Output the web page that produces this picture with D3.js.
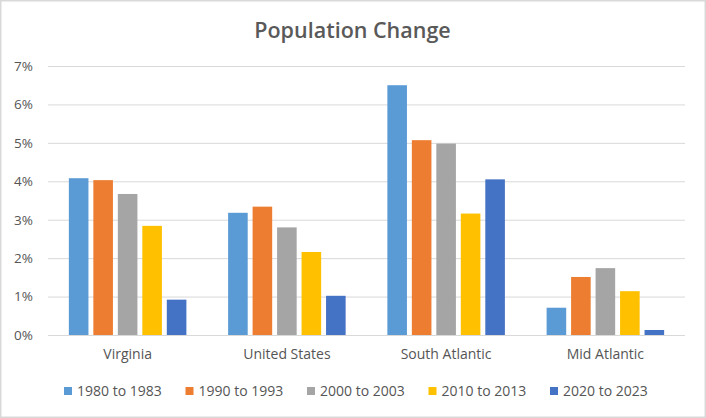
<!DOCTYPE html>
<html>
<head>
<meta charset="utf-8">
<script src="https://cdn.jsdelivr.net/npm/d3@7"></script>
<style>
  html, body { margin: 0; padding: 0; background: #fff; }
  svg { display: block; font-family: "Open Sans", "Liberation Sans", sans-serif; }
</style>
</head>
<body>
<svg id="chart" width="706" height="418"></svg>
<script>
const title = "Population Change";
const categories = ["Virginia", "United States", "South Atlantic", "Mid Atlantic"];
const seriesNames = ["1980 to 1983", "1990 to 1993", "2000 to 2003", "2010 to 2013", "2020 to 2023"];
const seriesColors = ["#5B9BD5", "#ED7D31", "#A5A5A5", "#FFC000", "#4472C4"];
const s1980 = [0.0408, 0.0318, 0.0650, 0.0071];
const s1990 = [0.0403, 0.0334, 0.0507, 0.0151];
const s2000 = [0.0367, 0.0280, 0.0498, 0.0174];
const s2010 = [0.0284, 0.0216, 0.0316, 0.0114];
const s2020 = [0.0092, 0.0102, 0.0405, 0.0013];
const yTicks = [0, 0.01, 0.02, 0.03, 0.04, 0.05, 0.06, 0.07];

const seriesValues = [s1980, s1990, s2000, s2010, s2020];

const svg = d3.select("#chart");
const W = 706, H = 418;
const plot = { left: 48, right: 685, top: 66, bottom: 335 };
const textColor = "#555555";

svg.append("rect")
  .attr("x", 0.75).attr("y", 0.75).attr("width", W - 1.5).attr("height", H - 1.5)
  .attr("fill", "#fff").attr("stroke", "#D9D9D9").attr("stroke-width", 1.5);

svg.append("text")
  .attr("x", 352.5).attr("y", 37.5)
  .attr("text-anchor", "middle")
  .attr("font-size", 21.5).attr("font-weight", 600)
  .attr("fill", "#595959")
  .text(title);

const y = d3.scaleLinear().domain([0, 0.07]).range([plot.bottom, plot.top]);
const x0 = d3.scaleBand().domain(categories).range([plot.left, plot.right])
  .paddingInner(0.262).paddingOuter(0.131);
const x1 = d3.scaleBand().domain(d3.range(seriesNames.length)).range([0, x0.bandwidth()])
  .paddingInner(0.2).paddingOuter(0);

// gridlines + y labels
const yAxis = d3.axisLeft(y).tickValues(yTicks)
  .tickFormat(d3.format(".0%"))
  .tickSize(-(plot.right - plot.left)).tickPadding(15);
const gy = svg.append("g").attr("transform", `translate(${plot.left},0)`).call(yAxis);
gy.select(".domain").remove();
gy.selectAll(".tick line").attr("stroke", "#D9D9D9").attr("stroke-width", 1);
gy.selectAll(".tick text").attr("fill", textColor).attr("font-size", 13.5)
  .attr("font-weight", 500)
  .attr("font-family", "Open Sans, sans-serif");

// bars
const groups = svg.append("g").selectAll("g").data(categories).join("g")
  .attr("transform", d => `translate(${x0(d)},0)`);
groups.selectAll("rect")
  .data((c, ci) => seriesValues.map((vals, si) => ({ si, v: vals[ci] })))
  .join("rect")
  .attr("x", d => x1(d.si))
  .attr("width", x1.bandwidth())
  .attr("y", d => y(d.v))
  .attr("height", d => y(0) - y(d.v))
  .attr("fill", d => seriesColors[d.si]);

// baseline
svg.append("line")
  .attr("x1", plot.left).attr("x2", plot.right)
  .attr("y1", y(0) + 0.5).attr("y2", y(0) + 0.5)
  .attr("stroke", "#D9D9D9").attr("stroke-width", 1);

// x axis labels
const xAxis = d3.axisBottom(x0).tickSize(0).tickPadding(14);
const gx = svg.append("g").attr("transform", `translate(0,${plot.bottom})`).call(xAxis);
gx.select(".domain").remove();
gx.selectAll(".tick text").attr("fill", textColor).attr("font-size", 14)
  .attr("font-weight", 500)
  .attr("font-family", "Open Sans, sans-serif");

// legend
const legendX = d3.scalePoint().domain(seriesNames).range([64, 550]);
const lg = svg.append("g").selectAll("g").data(seriesNames).join("g")
  .attr("transform", d => `translate(${legendX(d)},387)`);
lg.append("rect").attr("width", 8).attr("height", 8)
  .attr("fill", (d, i) => seriesColors[i]);
lg.append("text").attr("x", 13).attr("y", 9)
  .attr("font-size", 14).attr("font-weight", 500).attr("fill", textColor)
  .text(d => d);
</script>
</body>
</html>
